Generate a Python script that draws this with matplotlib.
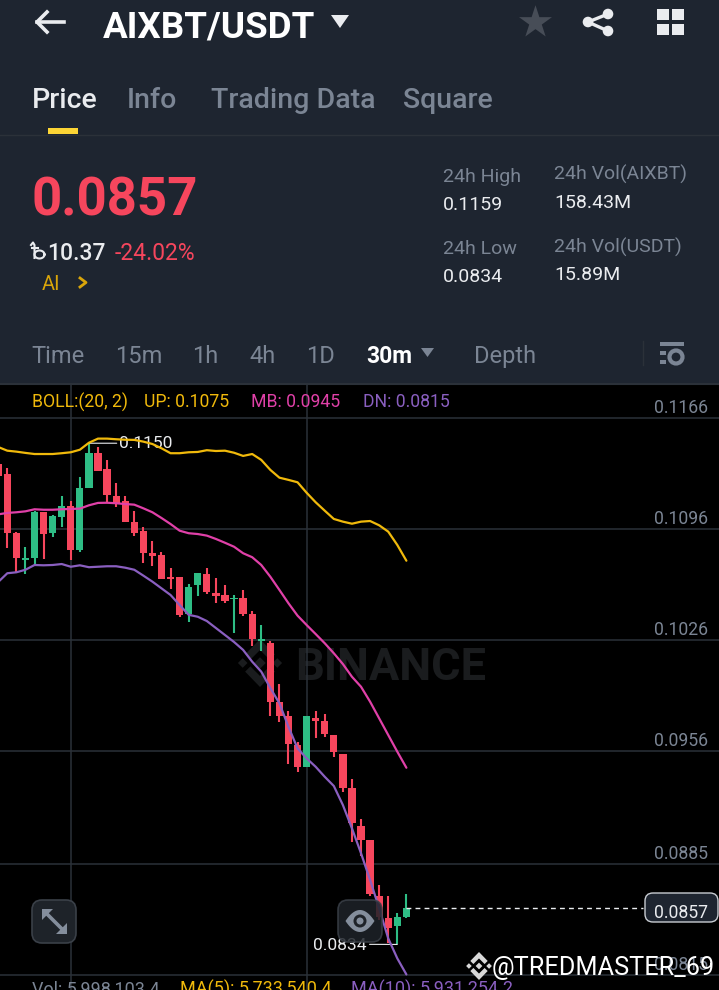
"""
AIXBT/USDT 30m candle screen with Bollinger bands
"""

from __future__ import annotations

import matplotlib

matplotlib.use("Agg")
import matplotlib.pyplot as plt
import numpy as np
from matplotlib.patches import Circle, FancyBboxPatch, Polygon, Rectangle

WIDTH, HEIGHT = 719, 990

PANEL = "#1E2530"
GRID = "#2B3139"
RED = "#F6465D"
GREEN = "#2EBD85"
YELLOW = "#F0B90B"
MAGENTA = "#E040A8"
PURPLE = "#8A5FC0"
GRAY = "#7B8594"
WHITE = "#EAECEF"

FONT = ["Roboto", "DejaVu Sans"]

opens = [0.11369, 0.11306, 0.10935, 0.10766, 0.10777, 0.11065, 0.10936, 0.11037, 0.11105, 0.10828,
         0.11218, 0.11439, 0.11338, 0.11168, 0.11136, 0.11006, 0.10947, 0.10807, 0.10796, 0.10656,
         0.10656, 0.10422, 0.10605, 0.10674, 0.10555, 0.10544, 0.10517, 0.10523, 0.10424, 0.10256,
         0.10243, 0.09872, 0.09782, 0.09599, 0.09462, 0.09771, 0.09750, 0.09662, 0.09542, 0.09330,
         0.09089, 0.09000, 0.08650, 0.08507, 0.08459, 0.08517]
closes = [0.11294, 0.10936, 0.10777, 0.10777, 0.11067, 0.10926, 0.11044, 0.11105, 0.10828, 0.11218,
          0.11439, 0.11327, 0.11176, 0.11124, 0.11006, 0.10936, 0.10807, 0.10792, 0.10647, 0.10645,
          0.10416, 0.10594, 0.10683, 0.10565, 0.10538, 0.10506, 0.10527, 0.10424, 0.10265, 0.10267,
          0.09872, 0.09782, 0.09603, 0.09462, 0.09782, 0.09752, 0.09668, 0.09552, 0.09331, 0.09106,
          0.09000, 0.08660, 0.08515, 0.08448, 0.08517, 0.08570]
highs = [0.11407, 0.11346, 0.10943, 0.10846, 0.11073, 0.11067, 0.11048, 0.11168, 0.11136, 0.11287,
         0.11500, 0.11476, 0.11395, 0.11250, 0.11168, 0.11075, 0.10974, 0.10884, 0.10815, 0.10714,
         0.10656, 0.10613, 0.10683, 0.10712, 0.10653, 0.10605, 0.10542, 0.10576, 0.10443, 0.10355,
         0.10254, 0.09983, 0.09813, 0.09620, 0.09782, 0.09813, 0.09792, 0.09662, 0.09542, 0.09383,
         0.09131, 0.09000, 0.08717, 0.08648, 0.08539, 0.08658]
lows = [0.11269, 0.10840, 0.10684, 0.10676, 0.10739, 0.10771, 0.10909, 0.10974, 0.10765, 0.10817,
        0.11218, 0.11325, 0.11124, 0.11098, 0.11004, 0.10918, 0.10747, 0.10727, 0.10645, 0.10584,
        0.10405, 0.10376, 0.10536, 0.10552, 0.10495, 0.10495, 0.10306, 0.10414, 0.10223, 0.10193,
        0.09782, 0.09742, 0.09479, 0.09431, 0.09462, 0.09641, 0.09651, 0.09522, 0.09303, 0.08990,
        0.08902, 0.08648, 0.08497, 0.08353, 0.08343, 0.08507]

boll_up = [0.11476, 0.11453, 0.11447, 0.11439, 0.11432, 0.11432, 0.11432, 0.11437, 0.11443, 0.11459,
           0.11503, 0.11529, 0.11529, 0.11525, 0.11522, 0.11521, 0.11510, 0.11495, 0.11468, 0.11437,
           0.11437, 0.11443, 0.11445, 0.11456, 0.11451, 0.11453, 0.11440, 0.11420, 0.11432, 0.11395,
           0.11332, 0.11283, 0.11269, 0.11254, 0.11188, 0.11128, 0.11075, 0.11023, 0.11006, 0.10993,
           0.11006, 0.11010, 0.10983, 0.10943, 0.10859, 0.10760]
boll_mb = [0.11052, 0.11061, 0.11065, 0.11071, 0.11084, 0.11081, 0.11081, 0.11084, 0.11086, 0.11088,
           0.11109, 0.11124, 0.11125, 0.11122, 0.11117, 0.11113, 0.11090, 0.11065, 0.11029, 0.10991,
           0.10949, 0.10933, 0.10928, 0.10918, 0.10897, 0.10873, 0.10848, 0.10807, 0.10782, 0.10733,
           0.10659, 0.10576, 0.10492, 0.10414, 0.10355, 0.10298, 0.10240, 0.10177, 0.10109, 0.10029,
           0.09966, 0.09872, 0.09767, 0.09662, 0.09557, 0.09456]
boll_dn = [0.10626, 0.10681, 0.10687, 0.10703, 0.10733, 0.10731, 0.10733, 0.10739, 0.10722, 0.10731,
           0.10719, 0.10722, 0.10725, 0.10725, 0.10716, 0.10703, 0.10666, 0.10628, 0.10586, 0.10544,
           0.10481, 0.10419, 0.10407, 0.10380, 0.10336, 0.10292, 0.10248, 0.10198, 0.10124, 0.10061,
           0.09958, 0.09862, 0.09714, 0.09578, 0.09515, 0.09462, 0.09399, 0.09341, 0.09221, 0.09074,
           0.08917, 0.08749, 0.08570, 0.08381, 0.08255, 0.08154]

price_ticks = [0.1166, 0.1096, 0.1026, 0.0956, 0.0885, 0.0815]
time_grid = [7, 33]
peak_candle = 9
trough_candle = 43

tabs = [("Price", 32, WHITE), ("Info", 127, GRAY), ("Trading Data", 211, GRAY), ("Square", 403, GRAY)]
stats = [
    ("24h High", 443, 175, GRAY), ("0.1159", 443, 203, WHITE),
    ("24h Low", 443, 247, GRAY), ("0.0834", 443, 275, WHITE),
    ("24h Vol(AIXBT)", 554, 172, GRAY), ("158.43M", 554, 201, WHITE),
    ("24h Vol(USDT)", 554, 245, GRAY), ("15.89M", 554, 273, WHITE),
]
intervals = [("Time", 31), ("15m", 115), ("1h", 192), ("4h", 249), ("1D", 306), ("Depth", 474)]
boll_labels = [
    ("BOLL:(20, 2)", 32, YELLOW), ("UP: 0.1075", 144, YELLOW),
    ("MB: 0.0945", 251, MAGENTA), ("DN: 0.0815", 363, PURPLE),
]
vol_labels = [
    ("Vol: 5,998,103.4", 32, GRAY), ("MA(5): 5,733,540.4", 180, YELLOW),
    ("MA(10): 5,931,254.2", 351, PURPLE),
]


def px_text(ax, x, y, text, size, color, weight="normal", ha="left", zorder=5):
    ax.text(x, y, text, fontsize=size, color=color, fontweight=weight, ha=ha,
            va="center_baseline", family=FONT, zorder=zorder)


def draw_logo(ax, cx, cy, s, color, zorder=6):
    """Binance logo: diamonds and two chevrons."""
    def diamond(x, y, r):
        ax.add_patch(Polygon([(x - r, y), (x, y - r), (x + r, y), (x, y + r)],
                             fc=color, ec="none", zorder=zorder))
    diamond(cx, cy, 0.24 * s)
    diamond(cx - 0.72 * s, cy, 0.2 * s)
    diamond(cx + 0.72 * s, cy, 0.2 * s)
    for sign in (-1, 1):
        ax.add_patch(Polygon(
            [(cx - 0.62 * s, cy + sign * 0.36 * s), (cx, cy + sign * 1.0 * s),
             (cx + 0.62 * s, cy + sign * 0.36 * s), (cx + 0.4 * s, cy + sign * 0.14 * s),
             (cx, cy + sign * 0.54 * s), (cx - 0.4 * s, cy + sign * 0.14 * s)],
            fc=color, ec="none", zorder=zorder))


def draw_taka(ax, x, y, color):
    # no installed family has the taka sign, so it is drawn from strokes
    t = np.linspace(0, 2 * np.pi, 40)
    ax.plot([x, x + 2, x + 3.5, x + 3.5, x + 3.5], [y - 6, y - 8.5, y - 6, y - 6, y + 7],
            color=color, lw=1.5)
    ax.plot([x + 0.5, x + 7], [y - 3, y - 3], color=color, lw=1.5)
    ax.plot(x + 8.5 + 5 * np.cos(t), y + 3.5 + 4 * np.sin(t), color=color, lw=1.5)


def draw_header(ui):
    ui.add_patch(Rectangle((0, 0), WIDTH, 384, fc=PANEL, ec="none"))
    ui.add_patch(Rectangle((0, 384), WIDTH, HEIGHT - 384, fc="black", ec="none"))

    # top bar icons
    ui.plot([37, 64], [22, 22], color=WHITE, lw=2.6)
    ui.plot([47, 37, 47], [12, 22, 32], color=WHITE, lw=2.6)
    px_text(ui, 103, 23, "AIXBT/USDT", 26.5, "white", weight="bold")
    ui.add_patch(Polygon([(331, 15), (349, 15), (340, 28)], fc=WHITE, ec="none"))
    ui.scatter([535], [22], marker="*", s=620, color="#474D57", linewidths=0)
    share = [(608, 14), (588, 22), (608, 31)]
    ui.plot([p[0] for p in share], [p[1] for p in share], color=WHITE, lw=2.4)
    for x, y in share:
        ui.add_patch(Circle((x, y), 5.3, fc=WHITE, ec="none"))
    for x in (657, 672):
        for y in (9, 24):
            ui.add_patch(Rectangle((x, y), 11.5, 11, fc=WHITE, ec="none"))

    # tabs
    for name, x, color in tabs:
        px_text(ui, x, 98, name, 20.5, color, weight="medium")
    ui.add_patch(Rectangle((48, 128), 30, 6, fc="#FCD535", ec="none", zorder=3))
    ui.plot([0, WIDTH], [134.5, 134.5], color=GRID, lw=1)

    # price block
    px_text(ui, 31, 195, "0.0857", 38, RED, weight="bold")
    draw_taka(ui, 31, 251, WHITE)
    px_text(ui, 47, 251, "10.37", 16.5, WHITE, weight="medium")
    px_text(ui, 115, 251, "-24.02%", 16.5, RED)
    px_text(ui, 42, 282, "AI", 14.5, "#D9A50A")
    ui.plot([80, 86, 80], [278, 282.5, 287], color="#D9A50A", lw=2)

    for text, x, y, color in stats:
        px_text(ui, x, y, text, 14, color)

    # interval row
    for name, x in intervals:
        px_text(ui, x, 354, name, 17, GRAY)
    px_text(ui, 366, 354, "30m", 16.5, "white", weight="bold")
    ui.add_patch(Polygon([(421, 348), (434, 348), (427.5, 357)], fc=GRAY, ec="none"))
    ui.plot([643, 643], [341, 365], color=GRID, lw=1)
    ui.add_patch(Rectangle((660, 342), 24, 3.5, fc=GRAY, ec="none"))
    for y in (351, 360):
        ui.add_patch(Rectangle((660, y), 6, 3.5, fc=GRAY, ec="none"))
    ui.add_patch(Circle((676, 357), 6.5, fc="none", ec=GRAY, lw=3))
    ui.plot([0, WIDTH], [383.5, 383.5], color=GRID, lw=1.5)

    # watermark sits under the candles
    draw_logo(ui, 260, 663, 24, "#1A1C1E", zorder=1)
    px_text(ui, 295, 663, "BINANCE", 32.5, "#1A1C1E", weight="bold", zorder=1)


def draw_chart(ax):
    index = np.arange(-1, len(opens) - 1)
    o, c, h, l = map(np.array, (opens, closes, highs, lows))
    colors = np.where(c >= o, GREEN, RED)

    # one candle is 9.07 px wide, candle 0 sits at x = 7.3 px
    ax.set_xlim(-7.3 / 9.07, (WIDTH - 7.3) / 9.07)
    ax.set_ylim(0.08056, 0.11873)
    ax.axis("off")

    for tick in price_ticks:
        ax.axhline(tick, color=GRID, lw=1.1, zorder=1)
        ax.annotate(f"{tick:.4f}", xy=(1, tick), xycoords=("axes fraction", "data"),
                    xytext=(-8, 7), textcoords="offset points", ha="right", va="center",
                    fontsize=12.7, color=GRAY, family=FONT, zorder=2)
    for pos in time_grid:
        ax.axvline(pos, color=GRID, lw=1.1, zorder=1)

    ax.vlines(index, l, h, colors=colors, lw=1.5, zorder=3)
    ax.bar(index, np.abs(c - o), bottom=np.minimum(o, c), width=0.8, color=colors, lw=0, zorder=3)

    # last price dash and the high/low leaders
    last = closes[-1]
    ax.plot([index[-1], 70.1], [last, last], color=WHITE, lw=1, ls=(0, (3.5, 3)), zorder=3)
    ax.annotate("0.1150", xy=(peak_candle, max(highs)), xytext=(22, 0), textcoords="offset points",
                va="center", fontsize=12.5, color=WHITE, family=FONT, zorder=4,
                arrowprops=dict(arrowstyle="-", color=WHITE, lw=0.8, shrinkA=0, shrinkB=0,
                                relpos=(0, 0.5)))
    ax.annotate("0.0834", xy=(trough_candle, min(lows)), xytext=(-22, -1), textcoords="offset points",
                ha="right", va="center", fontsize=12.5, color=WHITE, family=FONT, zorder=3.2,
                arrowprops=dict(arrowstyle="-", color=WHITE, lw=0.8, shrinkA=0, shrinkB=0,
                                relpos=(1, 0.6)))

    for values, color in ((boll_up, YELLOW), (boll_mb, MAGENTA), (boll_dn, PURPLE)):
        ax.plot(index, values, color=color, lw=1.6, zorder=6, solid_capstyle="round")


def draw_overlays(ui):
    """Everything on top of the chart, in pixel positions."""
    for text, x, color in boll_labels:
        px_text(ui, x, 400, text, 12.7, color)
    for text, x, color in vol_labels:
        px_text(ui, x, 987, text, 13, color)

    # fullscreen button
    ui.add_patch(FancyBboxPatch((32, 900), 44, 43, boxstyle="round,pad=0,rounding_size=10",
                                fc="#1E2329", ec="#3A4048", lw=1.2, zorder=3))
    ui.plot([46, 63], [913, 930], color="#848E9C", lw=2.6, zorder=4)
    ui.add_patch(Polygon([(42, 909), (53, 909), (42, 920)], fc="#848E9C", ec="none", zorder=4))
    ui.add_patch(Polygon([(67, 934), (56, 934), (67, 923)], fc="#848E9C", ec="none", zorder=4))

    # eye button
    ui.add_patch(FancyBboxPatch((338, 900), 44, 42, boxstyle="round,pad=0,rounding_size=10",
                                fc="#1E2329", ec="#3A4048", lw=1.2, alpha=0.85, zorder=3))
    t = np.linspace(-1, 1, 41)
    ui.fill(np.r_[360 + 14.5 * t, 360 - 14.5 * t], np.r_[921 - 11 * (1 - t**2), 921 + 11 * (1 - t**2)],
            color="#848E9C", lw=0, zorder=4)
    ui.add_patch(Circle((360, 921), 6.5, fc="#1E2329", ec="none", zorder=4))
    ui.add_patch(Circle((360, 921), 3.5, fc="#848E9C", ec="none", zorder=4))

    # current price label
    ui.add_patch(FancyBboxPatch((645, 893), 73, 29, boxstyle="round,pad=0,rounding_size=8",
                                fc=PANEL, ec="#C8CCD2", lw=1, zorder=4))
    px_text(ui, 681, 911, "0.0857", 12.7, WHITE, ha="center", zorder=5)

    # screenshot watermark
    draw_logo(ui, 479, 966, 14, "#D8D8D8", zorder=7)
    px_text(ui, 492, 966, "@TREDMASTER_69", 18.2, "white", zorder=7)


def main() -> None:
    plt.rcParams["font.family"] = FONT
    figure = plt.figure(figsize=(WIDTH / 100, HEIGHT / 100), dpi=100, facecolor="black")

    header = figure.add_axes([0, 0, 1, 1], zorder=1)
    header.set_xlim(0, WIDTH)
    header.set_ylim(HEIGHT, 0)
    header.axis("off")
    draw_header(header)

    chart = figure.add_axes([0, 0, 1, (HEIGHT - 384) / HEIGHT], zorder=2)
    draw_chart(chart)

    overlay = figure.add_axes([0, 0, 1, 1], zorder=3)
    overlay.set_xlim(0, WIDTH)
    overlay.set_ylim(HEIGHT, 0)
    overlay.axis("off")
    draw_overlays(overlay)

    figure.savefig("out.png", dpi=100, facecolor="black")
    plt.close(figure)


if __name__ == "__main__":
    main()
